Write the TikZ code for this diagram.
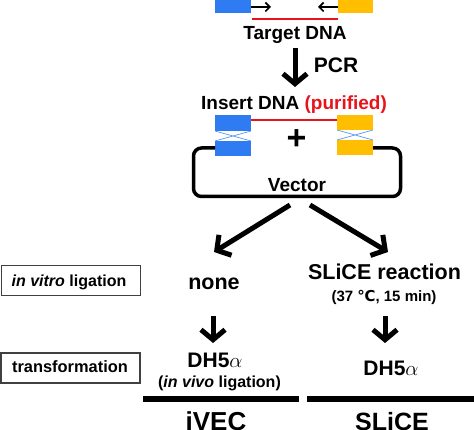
\documentclass[tikz,border=0pt]{standalone}
\usepackage{fontspec}
\setmainfont{Liberation Sans}
\newfontfamily\djv{DejaVu Sans}
\usetikzlibrary{arrows.meta}
\definecolor{cblue}{HTML}{2F7BF2}
\definecolor{cyel}{HTML}{FFBF00}
\definecolor{cred}{HTML}{E8141C}
\definecolor{boxgray}{HTML}{404040}
\tikzset{
  txt/.style={inner sep=0pt, anchor=base, font=\bfseries},
  bigarrow/.style={line width=5pt, -{Straight Barb[length=10pt,width=24pt,line width=5pt]}},
  smallarrow/.style={line width=1.4pt, -{Straight Barb[length=4.5pt,width=9pt,line width=1.6pt]}},
  labelbox/.style={draw=boxgray, line width=1.4pt, minimum width=139pt, minimum height=30pt, inner sep=0pt},
  redline/.style={cred, line width=2.2pt},
  crossline/.style={cblue!80, line width=0.7pt},
  bar/.style={line width=6pt},
}
\begin{document}
\begin{tikzpicture}[x=1pt,y=-1pt]
\useasboundingbox (0,0) rectangle (474,430);
% top target DNA
\fill[cblue] (215,-5) rectangle (251,13);
\fill[cyel] (338,-5) rectangle (373,13);
\coordinate (a1s) at (251,7); \coordinate (a1e) at (271,7);
\coordinate (a2s) at (338,7); \coordinate (a2e) at (318,7);
\draw[smallarrow] (a1s) -- (a1e);
\draw[smallarrow] (a2s) -- (a2e);
\coordinate (r1a) at (252,19); \coordinate (r1b) at (338,19);
\draw[redline] (r1a) -- (r1b);
\node[txt, font=\bfseries\fontsize{19}{22}\selectfont] (target) at (295,40) {Target DNA};
% PCR arrow
\coordinate (pcrs) at (295,48);
\coordinate (pcre) at (295,87);
\draw[bigarrow] (pcrs) -- (pcre);
\node[txt, font=\bfseries\fontsize{21}{24}\selectfont] (pcr) at (336,73) {PCR};
\node[txt, font=\bfseries\fontsize{19}{22}\selectfont] (insert) at (294,110) {Insert DNA \textcolor{cred}{(purified)}};
% insert
\fill[cblue] (215,115) rectangle (251,131);
\fill[cblue] (215,141) rectangle (251,156);
\draw[crossline] (215,131) -- (251,141) (215,141) -- (251,131);
\fill[cyel] (337,115) rectangle (373,130);
\fill[cyel] (337,140) rectangle (373,155);
\draw[crossline] (337,130) -- (373,140) (337,140) -- (373,130);
\coordinate (r2a) at (251,120); \coordinate (r2b) at (337,120);
\draw[redline] (r2a) -- (r2b);
\node[txt, font=\bfseries\fontsize{34}{36}\selectfont] (plus) at (296.5,150) {+};
% vector loop
\coordinate (vl) at (215,148);
\coordinate (vr) at (373,148);
\draw[line width=3.5pt, rounded corners=8pt] (vl) -- (193.5,148) -- (193.5,196.5) -- (400.5,196.5) -- (400.5,148) -- (vr);
\node[txt, font=\bfseries\fontsize{19}{22}\selectfont] (vector) at (297,192) {Vector};
% split arrows
\coordinate (ls) at (290,205); \coordinate (le) at (214,252);
\coordinate (rs) at (310,205); \coordinate (re) at (388,252);
\draw[bigarrow] (ls) -- (le);
\draw[bigarrow] (rs) -- (re);
% row 1
\node[labelbox] (invitro) at (71,280.5) {};
\node[txt, font=\bfseries\fontsize{16}{18}\selectfont] (invitrot) at (69,287) {\textit{in vitro} ligation};
\node[txt, font=\bfseries\fontsize{21.5}{24}\selectfont] (none) at (214,290) {none};
\node[txt, font=\bfseries\fontsize{21.5}{24}\selectfont] (slice) at (384.5,280) {SLiCE reaction};
\node[txt, font=\bfseries\fontsize{15}{17}\selectfont] (cond) at (384,302) {(37 {\djv\bfseries ℃}, 15 min)};
% down arrows
\coordinate (d1s) at (213,316); \coordinate (d1e) at (213,343);
\coordinate (d2s) at (385,316); \coordinate (d2e) at (385,343);
\draw[bigarrow] (d1s) -- (d1e);
\draw[bigarrow] (d2s) -- (d2e);
% row 2
\node[labelbox] (transf) at (70.5,368) {};
\node[txt, font=\bfseries\fontsize{16.4}{18}\selectfont] (transft) at (70,373) {transformation};
\node[txt, font=\bfseries\fontsize{21}{24}\selectfont] (dh1) at (215,367) {DH5$\alpha$};
\node[txt, font=\bfseries\fontsize{16}{18}\selectfont] (vivo) at (219.5,387) {(\textit{in vivo} ligation)};
\node[txt, font=\bfseries\fontsize{21}{24}\selectfont] (dh2) at (391,375) {DH5$\alpha$};
% bars
\coordinate (b1a) at (143,399); \coordinate (b1b) at (299,399);
\coordinate (b2a) at (307,399); \coordinate (b2b) at (476,399);
\draw[bar] (b1a) -- (b1b);
\draw[bar] (b2a) -- (b2b);
\node[txt, font=\bfseries\fontsize{26}{28}\selectfont] (ivec) at (216,430) {iVEC};
\node[txt, font=\bfseries\fontsize{25}{28}\selectfont] (slicet) at (392,430) {SLiCE};
\end{tikzpicture}
\end{document}
